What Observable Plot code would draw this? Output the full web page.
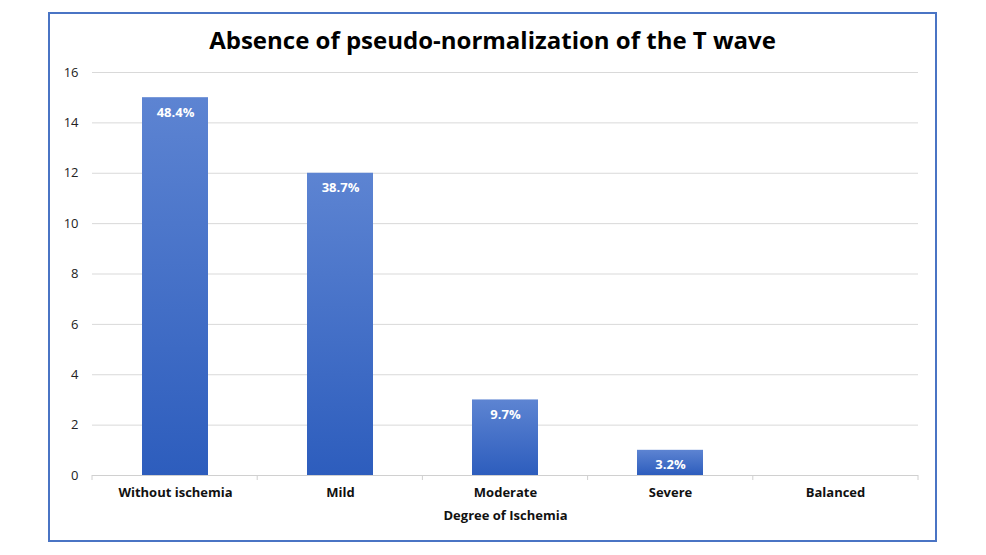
<!DOCTYPE html>
<html>
<head>
<meta charset="utf-8">
<script src="https://cdn.jsdelivr.net/npm/d3@7"></script>
<script src="https://cdn.jsdelivr.net/npm/@observablehq/plot@0.6"></script>
<style>
  html, body { margin: 0; padding: 0; background: #fff; }
  body { width: 986px; height: 555px; position: relative; overflow: hidden; font-family: "Open Sans", sans-serif; }
  #frame { position: absolute; left: 48px; top: 12px; width: 885px; height: 526px; border: 2px solid #4a74c4; background: #fff; }
  #title { position: absolute; left: 0; top: 11px; width: 100%; text-align: center; font-size: 24px; font-weight: 700; color: #000; line-height: 30px; }
  #chart { position: absolute; left: 0; top: 48px; }
</style>
</head>
<body>
<div id="frame">
  <div id="title">Absence of pseudo-normalization of the T wave</div>
  <div id="chart"></div>
</div>
<script>
const categories = ["Without ischemia", "Mild", "Moderate", "Severe", "Balanced"];
const counts = [15, 12, 3, 1, 0];
const percentLabels = ["48.4%", "38.7%", "9.7%", "3.2%", ""];
const yTicks = [0, 2, 4, 6, 8, 10, 12, 14, 16];
const xTitle = "Degree of Ischemia";

const data = categories.map((c, i) => ({category: c, count: counts[i], label: percentLabels[i]}));

const W = 885, H = 478, mL = 42, mR = 17, mT = 10, mB = 65;

function gradientDefs() {
  const ns = "http://www.w3.org/2000/svg";
  const g = document.createElementNS(ns, "g");
  g.innerHTML = `<defs>
    <linearGradient id="barGrad" x1="0" y1="0" x2="0" y2="1">
      <stop offset="0" stop-color="#5d84d2"/>
      <stop offset="1" stop-color="#2d5dbd"/>
    </linearGradient>
  </defs>`;
  return g;
}

function bandTicks(index, scales, values, dimensions) {
  const ns = "http://www.w3.org/2000/svg";
  const g = document.createElementNS(ns, "g");
  const {width, marginLeft, marginRight} = dimensions;
  const n = categories.length;
  const step = (width - marginLeft - marginRight) / n;
  const y0 = scales.y(0);
  for (let i = 0; i <= n; i++) {
    const x = marginLeft + i * step;
    const l = document.createElementNS(ns, "line");
    l.setAttribute("x1", x); l.setAttribute("x2", x);
    l.setAttribute("y1", y0); l.setAttribute("y2", y0 + 5);
    l.setAttribute("stroke", "#d0d0d0");
    l.setAttribute("stroke-width", 1);
    g.appendChild(l);
  }
  return g;
}

const chart = Plot.plot({
  width: W,
  height: H,
  marginLeft: mL,
  marginRight: mR,
  marginTop: mT,
  marginBottom: mB,
  style: {fontFamily: "'Open Sans', sans-serif", background: "transparent", overflow: "visible"},
  x: {domain: categories, paddingInner: 0.6, paddingOuter: 0.3, label: null},
  y: {domain: [0, 16], label: null},
  marks: [
    gradientDefs,
    Plot.gridY(yTicks, {stroke: "#d9d9d9", strokeOpacity: 1, strokeWidth: 1}),
    Plot.axisY(yTicks, {tickSize: 0, tickPadding: 14, fontSize: 13, fill: "#222", tickFormat: d => d}),
    Plot.barY(data, {x: "category", y: "count", fill: "url(#barGrad)", style: {filter: "drop-shadow(1px 1px 1.5px rgba(0,0,0,0.3))"}}),
    Plot.ruleY([0], {stroke: "#d0d0d0", strokeWidth: 1}),
    bandTicks,
    Plot.axisX({tickSize: 0, tickPadding: 12, fontSize: 13, fontWeight: "bold", fill: "#111", label: null}),
    Plot.text(data.filter(d => d.label), {x: "category", y: "count", text: "label", dy: 15, fill: "white", fontSize: 13, fontWeight: "bold"}),
    Plot.text([xTitle], {frameAnchor: "bottom", lineAnchor: "middle", dy: 40, fontSize: 13, fontWeight: "bold", fill: "#111"})
  ]
});
document.getElementById("chart").appendChild(chart);
</script>
</body>
</html>
